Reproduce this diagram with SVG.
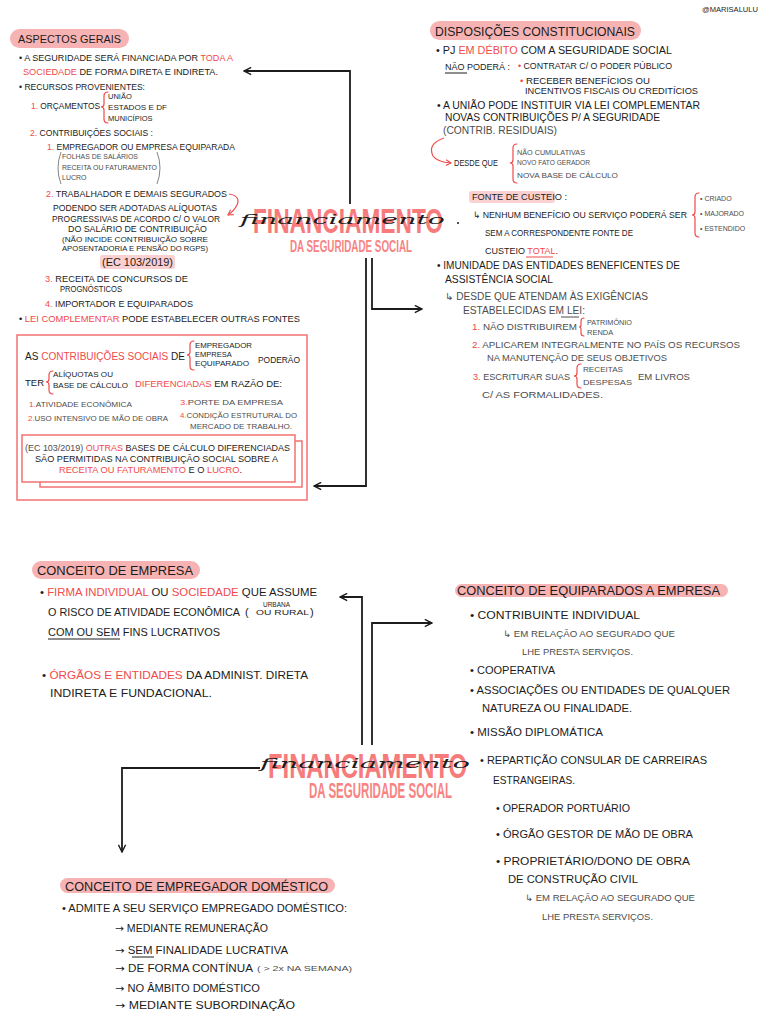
<svg xmlns="http://www.w3.org/2000/svg" width="768" height="1024" viewBox="0 0 768 1024">
<style>
text{font-family:"Liberation Sans",Arial,"DejaVu Sans",sans-serif;fill:#1c1c1c}
.ar{font-family:"DejaVu Sans",sans-serif}
.s7{font-size:7px}.s75{font-size:7.5px}.s8{font-size:8px}.s85{font-size:8.5px}.s9{font-size:9px}.s95{font-size:9.5px}.s10{font-size:10px}.s11{font-size:11px}
.r{fill:#f04a4a}
.g{fill:#4d4d4d}
.pill{fill:#f7b3b3}
.hl{fill:#fbd0d0}
.br{fill:none;stroke:#f04a4a;stroke-width:1.2;stroke-linecap:round}
.gb{fill:none;stroke:#777;stroke-width:0.9}
.ul{stroke:#1c1c1c;stroke-width:1}
.box{fill:#fff;stroke:#f27272;stroke-width:1.5}
.big{font-weight:bold;fill:#f76d6d;opacity:0.9}
.sub{font-weight:bold;fill:#f78383}
.cur{font-family:"DejaVu Serif",serif;font-style:italic;fill:#1c1c1c}
.conn{fill:none;stroke:#1c1c1c;stroke-width:1.8}
</style>
<defs>
<marker id="ah" viewBox="0 0 10 10" refX="9" refY="5" markerWidth="5" markerHeight="5" orient="auto" markerUnits="strokeWidth">
<path d="M1,1 L9,5 L1,9" fill="none" stroke="#1c1c1c" stroke-width="1.6"/>
</marker>
<marker id="rah" viewBox="0 0 10 10" refX="8" refY="5" markerWidth="6" markerHeight="6" orient="auto" markerUnits="strokeWidth">
<path d="M1,1 L8,5 L1,9" fill="none" stroke="#f04a4a" stroke-width="1.5"/>
</marker>
</defs>
<rect width="768" height="1024" fill="#fff"/>

<g id="connectors">
<path class="conn" d="M350,204 L350,71 L244,71" marker-end="url(#ah)"/>
<path class="conn" d="M366,258 L366,486 L314,486" marker-end="url(#ah)"/>
<path class="conn" d="M372,258 L372,309 L422,309" marker-end="url(#ah)"/>
<path class="conn" d="M362,745 L362,597 L340,597" marker-end="url(#ah)"/>
<path class="conn" d="M372,745 L372,623 L432,623" marker-end="url(#ah)"/>
<path class="conn" d="M260,768 L122,768 L122,852" marker-end="url(#ah)"/>
</g>

<g id="title-top">
<text class="big" transform="translate(253,233) scale(1,1.55)" x="0" y="0" font-size="22.6" textLength="190" lengthAdjust="spacingAndGlyphs">FINANCIAMENTO</text>
<text class="sub" transform="translate(290,252) scale(1,1.75)" x="0" y="0" font-size="9.8" textLength="122" lengthAdjust="spacingAndGlyphs">DA SEGURIDADE SOCIAL</text>
<text class="cur" x="240" y="224" font-size="12" textLength="205" lengthAdjust="spacingAndGlyphs">financiamento</text>
</g>

<g id="aspectos-gerais">
<rect class="pill" x="10" y="29" width="119" height="19" rx="9.5"/>
<text x="18" y="43" font-size="11" textLength="103" lengthAdjust="spacingAndGlyphs">ASPECTOS GERAIS</text>
<text class="s9" x="19" y="61" textLength="214" lengthAdjust="spacingAndGlyphs">• A SEGURIDADE SERÁ FINANCIADA POR <tspan class="r">TODA A</tspan></text>
<text class="s9" x="23" y="75" textLength="195" lengthAdjust="spacingAndGlyphs"><tspan class="r">SOCIEDADE</tspan> DE FORMA DIRETA E INDIRETA.</text>
<text class="s9" x="19" y="90" textLength="126" lengthAdjust="spacingAndGlyphs">• RECURSOS PROVENIENTES:</text>
<text class="s9" x="31" y="109" textLength="69" lengthAdjust="spacingAndGlyphs"><tspan class="r">1.</tspan> ORÇAMENTOS</text>
<path class="br" d="M108,92 Q104,92 104,96 L104,104 Q104,107 101,107 Q104,107 104,110 L104,119 Q104,123 108,123"/>
<text class="s75" x="108" y="99">UNIÃO</text>
<text class="s75" x="108" y="110" textLength="59" lengthAdjust="spacingAndGlyphs">ESTADOS E DF</text>
<text class="s75" x="108" y="121">MUNICÍPIOS</text>
<text class="s9" x="30" y="136" textLength="123" lengthAdjust="spacingAndGlyphs"><tspan class="r">2.</tspan> CONTRIBUIÇÕES SOCIAIS :</text>
<text class="s85" x="47" y="150" textLength="188" lengthAdjust="spacingAndGlyphs"><tspan class="r">1.</tspan> EMPREGADOR OU EMPRESA EQUIPARADA</text>
<path class="gb" d="M61,152 Q55,168 61,184"/>
<path class="gb" d="M157,152 Q163,168 157,184"/>
<text class="s7 g" x="62" y="159" textLength="76" lengthAdjust="spacingAndGlyphs">FOLHAS DE SALÁRIOS</text>
<text class="s7 g" x="62" y="170" textLength="95" lengthAdjust="spacingAndGlyphs">RECEITA OU FATURAMENTO</text>
<text class="s7 g" x="62" y="180">LUCRO</text>
<text class="s85" x="46" y="197" textLength="181" lengthAdjust="spacingAndGlyphs"><tspan class="r">2.</tspan> TRABALHADOR E DEMAIS SEGURADOS</text>
<path d="M229,194 Q241,196 237,205 Q234,211 228,215" fill="none" stroke="#f04a4a" stroke-width="1.2" marker-end="url(#rah)"/>
<text class="s95" x="53" y="211" textLength="164" lengthAdjust="spacingAndGlyphs">PODENDO SER ADOTADAS ALÍQUOTAS</text>
<text class="s95" x="52" y="222" textLength="168" lengthAdjust="spacingAndGlyphs">PROGRESSIVAS DE ACORDO C/ O VALOR</text>
<text class="s95" x="68" y="232" textLength="139" lengthAdjust="spacingAndGlyphs">DO SALÁRIO DE CONTRIBUIÇÃO</text>
<text class="s75" x="62" y="242" textLength="146" lengthAdjust="spacingAndGlyphs">(NÃO INCIDE CONTRIBUIÇÃO SOBRE</text>
<text class="s75" x="62" y="251" textLength="146" lengthAdjust="spacingAndGlyphs">APOSENTADORIA E PENSÃO DO RGPS)</text>
<rect class="hl" x="100" y="255" width="75" height="14" rx="3"/>
<text x="102" y="266" font-size="10.5" textLength="71" lengthAdjust="spacingAndGlyphs">(EC 103/2019)</text>
<text class="s9" x="45" y="282" textLength="143" lengthAdjust="spacingAndGlyphs"><tspan class="r">3.</tspan> RECEITA DE CONCURSOS DE</text>
<text class="s9" x="60" y="292" textLength="62" lengthAdjust="spacingAndGlyphs">PROGNÓSTICOS</text>
<text class="s9" x="45" y="307" textLength="148" lengthAdjust="spacingAndGlyphs"><tspan class="r">4.</tspan> IMPORTADOR E EQUIPARADOS</text>
<text class="s9" x="19" y="322" textLength="281" lengthAdjust="spacingAndGlyphs">• <tspan class="r">LEI COMPLEMENTAR</tspan> PODE ESTABELECER OUTRAS FONTES</text>
</g>

<g id="box-contribuicoes">
<rect x="17" y="335" width="290" height="165" fill="none" stroke="#f27272" stroke-width="1.5"/>
<text class="s10" x="25" y="360" textLength="160" lengthAdjust="spacingAndGlyphs">AS <tspan class="r">CONTRIBUIÇÕES SOCIAIS</tspan> DE</text>
<path class="br" d="M194,341 Q190,341 190,345 L190,352 Q190,355 187,355 Q190,355 190,358 L190,366 Q190,370 194,370"/>
<text class="s75" x="195" y="348" textLength="57" lengthAdjust="spacingAndGlyphs">EMPREGADOR</text>
<text class="s75" x="195" y="357">EMPRESA</text>
<text class="s75" x="195" y="366" textLength="54" lengthAdjust="spacingAndGlyphs">EQUIPARADO</text>
<text class="s95" x="258" y="363" textLength="42" lengthAdjust="spacingAndGlyphs">PODERÃO</text>
<text class="s95" x="25" y="386">TER</text>
<path class="br" d="M53,371 Q49,371 49,375 L49,379 Q49,382 46,382 Q49,382 49,385 L49,390 Q49,394 53,394"/>
<text class="s75" x="53" y="377" textLength="60" lengthAdjust="spacingAndGlyphs">ALÍQUOTAS OU</text>
<text class="s75" x="53" y="388" textLength="75" lengthAdjust="spacingAndGlyphs">BASE DE CÁLCULO</text>
<text class="s95" x="135" y="387" textLength="147" lengthAdjust="spacingAndGlyphs"><tspan class="r">DIFERENCIADAS</tspan> EM RAZÃO DE:</text>
<text class="s8 g" x="29" y="407" textLength="103" lengthAdjust="spacingAndGlyphs"><tspan class="r">1.</tspan>ATIVIDADE ECONÔMICA</text>
<text class="s8 g" x="28" y="421" textLength="140" lengthAdjust="spacingAndGlyphs"><tspan class="r">2.</tspan>USO INTENSIVO DE MÃO DE OBRA</text>
<text class="s8 g" x="180" y="405" textLength="103" lengthAdjust="spacingAndGlyphs"><tspan class="r">3.</tspan>PORTE DA EMPRESA</text>
<text class="s8 g" x="180" y="418" textLength="117" lengthAdjust="spacingAndGlyphs"><tspan class="r">4.</tspan>CONDIÇÃO ESTRUTURAL DO</text>
<text class="s8 g" x="190" y="429" textLength="102" lengthAdjust="spacingAndGlyphs">MERCADO DE TRABALHO.</text>
<rect class="box" x="40" y="441" width="262" height="46"/>
<rect class="box" x="22" y="435" width="273" height="47"/>
<text class="s9" x="25" y="451" textLength="265" lengthAdjust="spacingAndGlyphs"><tspan class="g">(EC 103/2019)</tspan> <tspan class="r">OUTRAS</tspan> BASES DE CÁLCULO DIFERENCIADAS</text>
<text class="s9" x="35" y="462" textLength="243" lengthAdjust="spacingAndGlyphs">SÃO PERMITIDAS NA CONTRIBUIÇÃO SOCIAL SOBRE A</text>
<text class="s9" x="59" y="473" textLength="183" lengthAdjust="spacingAndGlyphs"><tspan class="r">RECEITA OU FATURAMENTO</tspan> E O <tspan class="r">LUCRO</tspan>.</text>
</g>

<g id="disposicoes">
<text class="s75" x="702" y="12" textLength="56" lengthAdjust="spacingAndGlyphs">@MARISALULU</text>
<rect class="pill" x="430" y="21" width="211" height="19" rx="9.5"/>
<text x="435" y="36" font-size="12" textLength="200" lengthAdjust="spacingAndGlyphs">DISPOSIÇÕES CONSTITUCIONAIS</text>
<text class="s10" x="436" y="54" textLength="236" lengthAdjust="spacingAndGlyphs">• PJ <tspan class="r">EM DÉBITO</tspan> COM A SEGURIDADE SOCIAL</text>
<text class="s95" x="445" y="70" textLength="65" lengthAdjust="spacingAndGlyphs">NÃO PODERÁ :</text>
<line class="ul" x1="445" y1="73" x2="467" y2="73"/>
<text class="s85" x="518" y="69" textLength="154" lengthAdjust="spacingAndGlyphs"><tspan class="r">•</tspan> CONTRATAR C/ O PODER PÚBLICO</text>
<text class="s9" x="520" y="84" textLength="130" lengthAdjust="spacingAndGlyphs"><tspan class="r">•</tspan> RECEBER BENEFÍCIOS OU</text>
<text class="s9" x="525" y="94" textLength="173" lengthAdjust="spacingAndGlyphs">INCENTIVOS FISCAIS OU CREDITÍCIOS</text>
<text class="s10" x="437" y="109" textLength="263" lengthAdjust="spacingAndGlyphs">• A UNIÃO PODE INSTITUIR VIA LEI COMPLEMENTAR</text>
<text class="s10" x="445" y="121" textLength="215" lengthAdjust="spacingAndGlyphs">NOVAS CONTRIBUIÇÕES P/ A SEGURIDADE</text>
<text class="s10 g" x="443" y="134" textLength="114" lengthAdjust="spacingAndGlyphs">(CONTRIB. RESIDUAIS)</text>
<path d="M444,138 Q427,144 433,156 Q437,162 451,163" fill="none" stroke="#f04a4a" stroke-width="1.2" marker-end="url(#rah)"/>
<text class="s85" x="454" y="166" textLength="44" lengthAdjust="spacingAndGlyphs">DESDE QUE</text>
<path class="br" d="M517,144 Q513,144 513,148 L513,160 Q513,163 510,163 Q513,163 513,166 L513,179 Q513,183 517,183"/>
<text class="s75 g" x="517" y="155" textLength="68" lengthAdjust="spacingAndGlyphs">NÃO CUMULATIVAS</text>
<text class="s75 g" x="517" y="165" textLength="73" lengthAdjust="spacingAndGlyphs">NOVO FATO GERADOR</text>
<text class="s75 g" x="517" y="178" textLength="101" lengthAdjust="spacingAndGlyphs">NOVA BASE DE CÁLCULO</text>
<rect class="hl" x="469" y="191" width="86" height="12" rx="3"/>
<text class="s95" x="472" y="200" textLength="95" lengthAdjust="spacingAndGlyphs">FONTE DE CUSTEIO :</text>
<circle cx="458" cy="223" r="1" fill="#1c1c1c"/>
<text class="s9" x="473" y="218" textLength="214" lengthAdjust="spacingAndGlyphs"><tspan class="ar">↳</tspan> NENHUM BENEFÍCIO OU SERVIÇO PODERÁ SER</text>
<text class="s9" x="485" y="236" textLength="148" lengthAdjust="spacingAndGlyphs">SEM A CORRESPONDENTE FONTE DE</text>
<text class="s9" x="485" y="254" textLength="73" lengthAdjust="spacingAndGlyphs">CUSTEIO <tspan class="r">TOTAL</tspan>.</text>
<line x1="526" y1="257" x2="553" y2="257" stroke="#f04a4a" stroke-width="1"/>
<path class="br" d="M699,193 Q695,193 695,197 L695,212 Q695,215 692,215 Q695,215 695,218 L695,233 Q695,237 699,237"/>
<text class="s7 g" x="700" y="201">• CRIADO</text>
<text class="s7 g" x="700" y="216">• MAJORADO</text>
<text class="s7 g" x="700" y="231">• ESTENDIDO</text>
<text class="s10" x="437" y="269" textLength="243" lengthAdjust="spacingAndGlyphs">• IMUNIDADE DAS ENTIDADES BENEFICENTES DE</text>
<text class="s10" x="445" y="283" textLength="108" lengthAdjust="spacingAndGlyphs">ASSISTÊNCIA SOCIAL</text>
<text class="s10 g" x="445" y="300" textLength="203" lengthAdjust="spacingAndGlyphs"><tspan class="ar">↳</tspan> DESDE QUE ATENDAM ÀS EXIGÊNCIAS</text>
<text class="s10 g" x="463" y="314" textLength="122" lengthAdjust="spacingAndGlyphs">ESTABELECIDAS EM LEI:</text>
<line x1="561" y1="317" x2="579" y2="317" stroke="#4d4d4d" stroke-width="1"/>
<text class="s95 g" x="472" y="330" textLength="105" lengthAdjust="spacingAndGlyphs"><tspan class="r">1.</tspan> NÃO DISTRIBUIREM</text>
<path class="br" d="M584,318 Q581,318 581,321 L581,325 Q581,327 579,327 Q581,327 581,329 L581,333 Q581,336 584,336"/>
<text class="s75 g" x="587" y="325" textLength="45" lengthAdjust="spacingAndGlyphs">PATRIMÔNIO</text>
<text class="s75 g" x="587" y="335">RENDA</text>
<text class="s95 g" x="472" y="348" textLength="268" lengthAdjust="spacingAndGlyphs"><tspan class="r">2.</tspan> APLICAREM INTEGRALMENTE NO PAÍS OS RECURSOS</text>
<text class="s95 g" x="487" y="361" textLength="180" lengthAdjust="spacingAndGlyphs">NA MANUTENÇÃO DE SEUS OBJETIVOS</text>
<text class="s95 g" x="473" y="380" textLength="97" lengthAdjust="spacingAndGlyphs"><tspan class="r">3.</tspan> ESCRITURAR SUAS</text>
<path class="br" d="M581,364 Q577,364 577,368 L577,373 Q577,376 574,376 Q577,376 577,379 L577,384 Q577,388 581,388"/>
<text class="s8 g" x="583" y="372" textLength="40" lengthAdjust="spacingAndGlyphs">RECEITAS</text>
<text class="s8 g" x="583" y="385" textLength="49" lengthAdjust="spacingAndGlyphs">DESPESAS</text>
<text class="s95 g" x="638" y="380" textLength="52" lengthAdjust="spacingAndGlyphs">EM LIVROS</text>
<text class="s95 g" x="482" y="398" textLength="121" lengthAdjust="spacingAndGlyphs">C/ AS FORMALIDADES.</text>
</g>

<g id="title-bottom">
<text class="big" transform="translate(268,778) scale(1,1.5)" x="0" y="0" font-size="23.7" textLength="199" lengthAdjust="spacingAndGlyphs">FINANCIAMENTO</text>
<text class="sub" transform="translate(309,798) scale(1,1.85)" x="0" y="0" font-size="11.5" textLength="143" lengthAdjust="spacingAndGlyphs">DA SEGURIDADE SOCIAL</text>
<text class="cur" x="260" y="768" font-size="13" textLength="210" lengthAdjust="spacingAndGlyphs">financiamento</text>
</g>

<g id="conceito-empresa">
<rect class="pill" x="32" y="561" width="168" height="18" rx="9"/>
<text x="37" y="575" font-size="13" textLength="156" lengthAdjust="spacingAndGlyphs">CONCEITO DE EMPRESA</text>
<text class="s11" x="40" y="596" textLength="277" lengthAdjust="spacingAndGlyphs">• <tspan class="r">FIRMA INDIVIDUAL</tspan> OU <tspan class="r">SOCIEDADE</tspan> QUE ASSUME</text>
<text class="s11" x="48" y="616" textLength="192" lengthAdjust="spacingAndGlyphs">O RISCO DE ATIVIDADE ECONÔMICA</text>
<text class="s11" x="245" y="616">(</text>
<text class="s7" x="263" y="607" textLength="27" lengthAdjust="spacingAndGlyphs">URBANA</text>
<text class="s7" x="256" y="615" textLength="53" lengthAdjust="spacingAndGlyphs">OU RURAL</text>
<text class="s11" x="310" y="616">)</text>
<text class="s11" x="48" y="636" textLength="172" lengthAdjust="spacingAndGlyphs">COM OU SEM FINS LUCRATIVOS</text>
<line class="ul" x1="48" y1="639" x2="120" y2="639"/>
<text class="s11" x="42" y="679" textLength="266" lengthAdjust="spacingAndGlyphs">• <tspan class="r">ÓRGÃOS E ENTIDADES</tspan> DA ADMINIST. DIRETA</text>
<text class="s11" x="50" y="697" textLength="162" lengthAdjust="spacingAndGlyphs">INDIRETA E FUNDACIONAL.</text>
</g>

<g id="conceito-equiparados">
<rect class="pill" x="455" y="584" width="273" height="13" rx="6.5"/>
<text x="457" y="595" font-size="13" textLength="263" lengthAdjust="spacingAndGlyphs">CONCEITO DE EQUIPARADOS A EMPRESA</text>
<text class="s11" x="470" y="619" textLength="170" lengthAdjust="spacingAndGlyphs">• CONTRIBUINTE INDIVIDUAL</text>
<text class="s9 g" x="503" y="637" textLength="172" lengthAdjust="spacingAndGlyphs"><tspan class="ar">↳</tspan> EM RELAÇÃO AO SEGURADO QUE</text>
<text class="s9 g" x="522" y="655" textLength="111" lengthAdjust="spacingAndGlyphs">LHE PRESTA SERVIÇOS.</text>
<text class="s11" x="470" y="674" textLength="85" lengthAdjust="spacingAndGlyphs">• COOPERATIVA</text>
<text class="s11" x="470" y="694" textLength="260" lengthAdjust="spacingAndGlyphs">• ASSOCIAÇÕES OU ENTIDADES DE QUALQUER</text>
<text class="s11" x="482" y="712" textLength="150" lengthAdjust="spacingAndGlyphs">NATUREZA OU FINALIDADE.</text>
<text class="s11" x="470" y="736" textLength="133" lengthAdjust="spacingAndGlyphs">• MISSÃO DIPLOMÁTICA</text>
<text class="s11" x="480" y="764" textLength="227" lengthAdjust="spacingAndGlyphs">• REPARTIÇÃO CONSULAR DE CARREIRAS</text>
<text class="s11" x="493" y="784" textLength="82" lengthAdjust="spacingAndGlyphs">ESTRANGEIRAS.</text>
<text class="s11" x="496" y="812" textLength="134" lengthAdjust="spacingAndGlyphs">• OPERADOR PORTUÁRIO</text>
<text class="s11" x="496" y="838" textLength="197" lengthAdjust="spacingAndGlyphs">• ÓRGÃO GESTOR DE MÃO DE OBRA</text>
<text class="s11" x="496" y="865" textLength="194" lengthAdjust="spacingAndGlyphs">• PROPRIETÁRIO/DONO DE OBRA</text>
<text class="s11" x="508" y="883" textLength="130" lengthAdjust="spacingAndGlyphs">DE CONSTRUÇÃO CIVIL</text>
<text class="s9 g" x="525" y="901" textLength="170" lengthAdjust="spacingAndGlyphs"><tspan class="ar">↳</tspan> EM RELAÇÃO AO SEGURADO QUE</text>
<text class="s9 g" x="542" y="920" textLength="111" lengthAdjust="spacingAndGlyphs">LHE PRESTA SERVIÇOS.</text>
</g>

<g id="conceito-empregador-domestico">
<rect class="pill" x="60" y="878" width="275" height="15" rx="7.5"/>
<text x="65" y="891" font-size="13" textLength="263" lengthAdjust="spacingAndGlyphs">CONCEITO DE EMPREGADOR DOMÉSTICO</text>
<text class="s11" x="62" y="912" textLength="285" lengthAdjust="spacingAndGlyphs">• ADMITE A SEU SERVIÇO EMPREGADO DOMÉSTICO:</text>
<text class="s10" x="115" y="932" textLength="153" lengthAdjust="spacingAndGlyphs"><tspan class="ar">→</tspan> MEDIANTE REMUNERAÇÃO</text>
<text class="s10" x="115" y="954" textLength="173" lengthAdjust="spacingAndGlyphs"><tspan class="ar">→</tspan> SEM FINALIDADE LUCRATIVA</text>
<line class="ul" x1="132" y1="957" x2="154" y2="957"/>
<text class="s10" x="115" y="972" textLength="138" lengthAdjust="spacingAndGlyphs"><tspan class="ar">→</tspan> DE FORMA CONTÍNUA</text>
<text class="s75 g" x="257" y="971" textLength="95" lengthAdjust="spacingAndGlyphs">( &gt; 2x NA SEMANA)</text>
<text class="s10" x="115" y="992" textLength="145" lengthAdjust="spacingAndGlyphs"><tspan class="ar">→</tspan> NO ÂMBITO DOMÉSTICO</text>
<text class="s10" x="115" y="1009" textLength="180" lengthAdjust="spacingAndGlyphs"><tspan class="ar">→</tspan> MEDIANTE SUBORDINAÇÃO</text>
</g>
</svg>
